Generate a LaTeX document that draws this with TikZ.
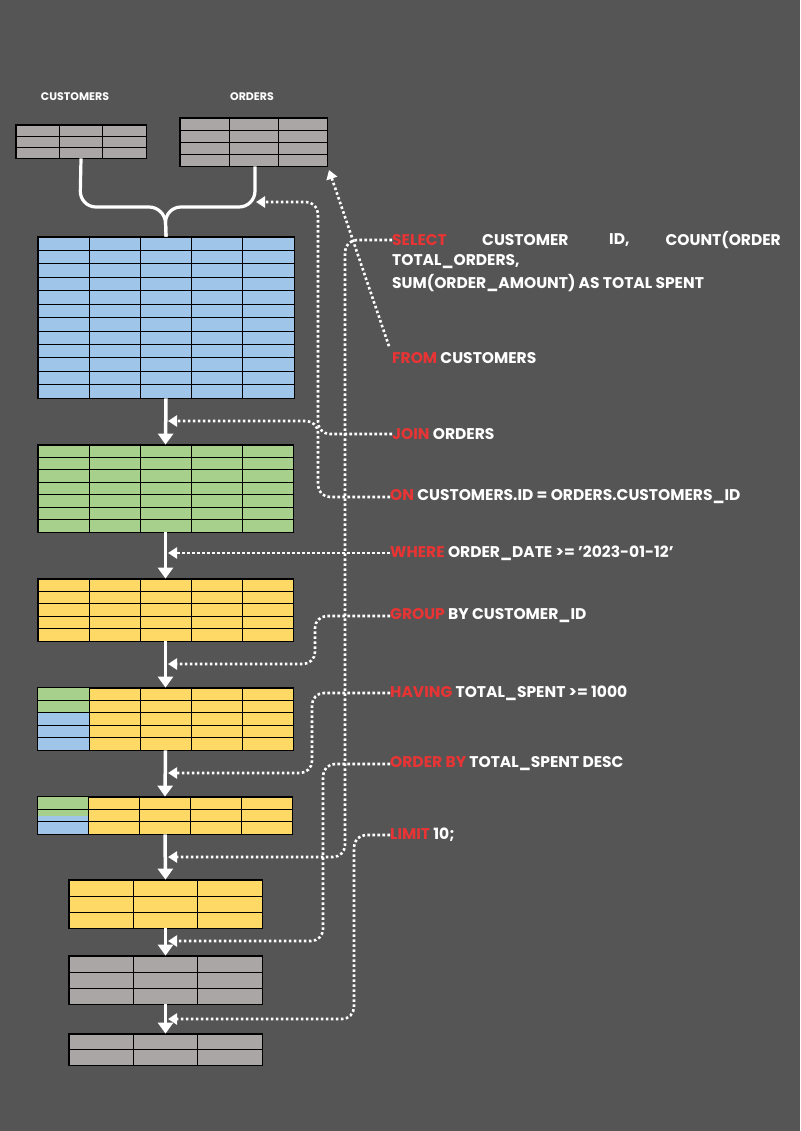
\documentclass[tikz,border=0pt]{standalone}
\usepackage{fontspec}
\setmainfont{Poppins}
\usetikzlibrary{arrows.meta}
\definecolor{bg}{RGB}{85,85,85}
\definecolor{kred}{RGB}{232,52,52}
\definecolor{cblue}{RGB}{159,197,232}
\definecolor{cgreen}{RGB}{168,208,141}
\definecolor{cyellow}{RGB}{255,217,102}
\definecolor{cgrey}{RGB}{170,166,166}
\newcommand\kw[1]{\textcolor{kred}{#1}}
\newcommand\tbl[9]{%
 \node[draw=black, fill=#8, line width=0.8pt, inner sep=0, minimum width={(#4-#2)*1pt}, minimum height={(#5-#3)*1pt}] (#1) at ({(#2+#4)/2},{(#3+#5)/2}) {};
 #9
 \pgfmathsetmacro\dx{(#4-#2)/#6}\pgfmathsetmacro\dy{(#5-#3)/#7}
 \foreach \i in {1,...,#6}{\ifnum\i<#6 \draw[line width=0.8pt] ({#2+\i*\dx},#3) -- ({#2+\i*\dx},#5);\fi}
 \foreach \i in {1,...,#7}{\ifnum\i<#7 \draw[line width=0.8pt] (#2,{#3+\i*\dy}) -- (#4,{#3+\i*\dy});\fi}
 \draw[line width=0.8pt] (#1.north west) rectangle (#1.south east);
}
\tikzset{
 flow/.style={white, line width=3.5pt, -{Triangle[width=15pt,length=11pt]}},
 dots/.style={white, line width=2.6pt, dash pattern=on 2.6pt off 2.4pt, rounded corners=12pt, -{Triangle[width=11pt,length=9pt]}},
 lbl/.style={anchor=west, inner sep=0, text=white, font=\bfseries\fontsize{15.5}{18}\selectfont},
 ttl/.style={text=white, font=\bfseries\fontsize{11}{13}\selectfont}
}
\begin{document}
\begin{tikzpicture}[x=1pt,y=-1pt]
\fill[bg] (0,0) rectangle (800,1131);
\useasboundingbox (0,0) rectangle (800,1131);
\node[ttl] (tc) at (75,97) {CUSTOMERS};
\node[ttl] (to) at (252,97) {ORDERS};
\tbl{cust}{16}{125}{146}{158}{3}{3}{cgrey}{}
\tbl{ord}{180}{118}{327}{166}{3}{4}{cgrey}{}
\tbl{t1}{38}{237}{294}{398}{5}{12}{cblue}{}
\tbl{t2}{38}{445}{293}{532}{5}{7}{cgreen}{}
\tbl{t3}{38}{579}{293}{641}{5}{5}{cyellow}{}
\tbl{t4}{38}{688}{293}{750}{5}{5}{cyellow}{\fill[cgreen] (38,688) rectangle (89,712.8); \fill[cblue] (38,712.8) rectangle (89,750);}
\tbl{t5}{38}{797}{292}{834}{5}{3}{cyellow}{\fill[cgreen] (38,797) rectangle (89,815.5); \fill[cblue] (38,815.5) rectangle (89,834);}
\tbl{t6}{69}{880}{262}{928}{3}{3}{cyellow}{}
\tbl{t7}{69}{956}{262}{1004}{3}{3}{cgrey}{}
\tbl{t8}{69}{1034}{262}{1065}{3}{2}{cgrey}{}
% brace
\draw[white, line width=3.2pt, rounded corners=16pt] (cust.south) -- (80,207) -- (165,207) -- (t1.north);
\draw[white, line width=3.2pt, rounded corners=16pt] (ord.south -| 255,0) -- (255,207) -- (165,207) -- (t1.north);
% flow arrows
\draw[flow] (t1.south) -- (t2.north);
\draw[flow] (t2.south) -- (t3.north);
\draw[flow] (t3.south) -- (t4.north);
\draw[flow] (t4.south) -- (t5.north);
\draw[flow] (t5.south) -- (t6.north);
\draw[flow] (t6.south) -- (t7.north);
\draw[flow] (t7.south) -- (t8.north);
% labels
\node[lbl] (sel) at (392,240) {\kw{SELECT}};
\node[lbl] (s2) at (482,240) {CUSTOMER};
\node[lbl] (s3) at (609,240) {ID,};
\node[lbl, anchor=east] (s4) at (781,240) {COUNT(ORDER};
\node[lbl] (s5) at (392,262) {TOTAL\_ORDERS,};
\node[lbl] (s6) at (392,283) {SUM(ORDER\_AMOUNT) AS TOTAL SPENT};
\node[lbl] (from) at (392,358) {\kw{FROM} CUSTOMERS};
\node[lbl] (join) at (392,434) {\kw{JOIN} ORDERS};
\node[lbl] (on) at (390,497) {\kw{ON} CUSTOMERS.ID = ORDERS.CUSTOMERS\_ID};
\node[lbl] (where) at (390,553) {\kw{WHERE} ORDER\_DATE >= '2023-01-12'};
\node[lbl] (group) at (390,616) {\kw{GROUP} BY CUSTOMER\_ID};
\node[lbl] (having) at (390,693) {\kw{HAVING} TOTAL\_SPENT >= 1000};
\node[lbl] (orderby) at (390,764) {\kw{ORDER BY} TOTAL\_SPENT DESC};
\node[lbl] (limit) at (390,835) {\kw{LIMIT} 10;};
% targets
\coordinate (aJ) at (256,202);
\coordinate (aOn) at (168,421);
\coordinate (aW) at (168,553);
\coordinate (aG) at (168,664);
\coordinate (aH) at (168,773);
\coordinate (aS) at (168,857);
\coordinate (aO) at (168,941);
\coordinate (aL) at (168,1019);
\coordinate (aF) at (329,170);
% dotted connectors
\draw[dots] (sel.west) -- (345,240) -- (345,857) -- (aS);
\draw[dots, rounded corners=0] (from.north west) ++(-3,-6) -- (aF);
\draw[dots] (join.west) -- (318,434) -- (318,202) -- (aJ);
\draw[dots] (on.west) -- (318,497) -- (318,421) -- (aOn);
\draw[dots] (where.west) -- (aW);
\draw[dots] (group.west) -- (315,616) -- (315,664) -- (aG);
\draw[dots] (having.west) -- (312,693) -- (312,773) -- (aH);
\draw[dots] (orderby.west) -- (323,764) -- (323,941) -- (aO);
\draw[dots] (limit.west) -- (354,835) -- (354,1019) -- (aL);
\end{tikzpicture}
\end{document}
